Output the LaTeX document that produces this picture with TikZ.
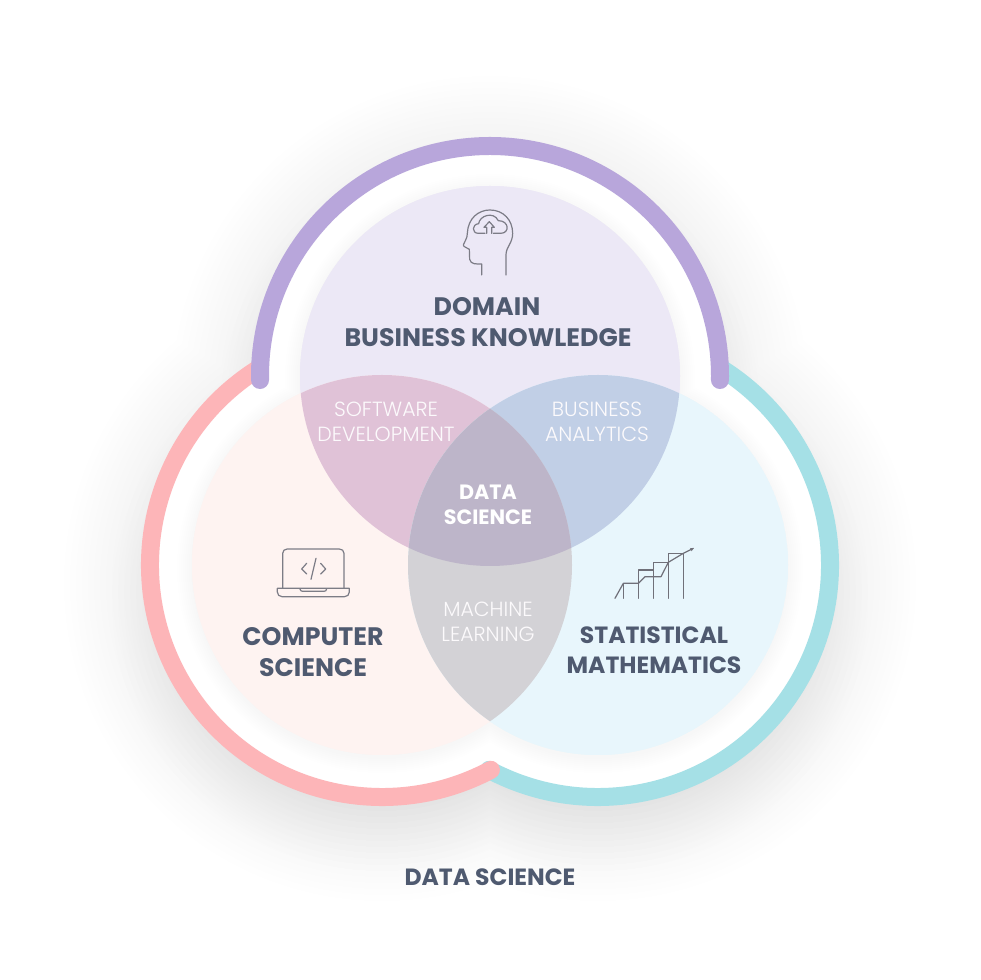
\documentclass[tikz,border=0pt]{standalone}
\usepackage{fontspec}
\setmainfont{Poppins}
\newfontfamily\lightfont{Poppins Light}
\definecolor{inkc}{HTML}{4F5A70}
\definecolor{iconc}{HTML}{7C7C86}
\definecolor{purp}{HTML}{B8A6DB}
\definecolor{pink}{HTML}{FDB5B8}
\definecolor{teal}{HTML}{A5E0E6}
\definecolor{ctop}{HTML}{ECE8F6}
\definecolor{cleft}{HTML}{FEF3F1}
\definecolor{cright}{HTML}{E8F6FC}
\definecolor{ovl}{HTML}{E0C2D7}
\definecolor{ovr}{HTML}{C1CFE6}
\definecolor{ovb}{HTML}{D3D2D6}
\definecolor{ovc}{HTML}{BDB5C9}
\tikzset{
  ring/.style={line width=18,line cap=round},
  head/.style={font=\bfseries\fontsize{25.3}{25.3}\selectfont,text=inkc,inner sep=0,anchor=center},
  headb/.style={head,font=\bfseries\fontsize{23.5}{23.5}\selectfont},
  sub/.style={font=\lightfont\fontsize{20.5}{20.5}\selectfont,text=white!92!ovl,inner sep=0,anchor=center},
  core/.style={font=\bfseries\fontsize{20.7}{20.7}\selectfont,text=white,inner sep=0,anchor=center},
  icon/.style={draw=iconc,line width=1.2,line join=round,line cap=round}
}
\begin{document}
\begin{tikzpicture}[x=1pt,y=1pt]
\useasboundingbox (0,0) rectangle (980,980);
\fill[white] (0,0) rectangle (980,980);
\coordinate (T) at (490,604);
\coordinate (L) at (382,415);
\coordinate (R) at (598,415);
% soft outer shadow: a wide faint halo and a tighter one lying lower
\foreach \r in {228,234,...,322}{
  \fill[black,fill opacity=.0024] ([yshift=-18]T) circle[radius=\r] ([yshift=-18]L) circle[radius=\r] ([yshift=-18]R) circle[radius=\r];
}
\foreach \r in {210,216,...,270}{
  \fill[black,fill opacity=.0045] ([yshift=-36]T) circle[radius=\r] ([yshift=-36]L) circle[radius=\r] ([yshift=-36]R) circle[radius=\r];
}
% white plate
\fill[white] (T) circle[radius=224] (L) circle[radius=224] (R) circle[radius=224];
% rings
\draw[ring,teal] ([shift={(58:232)}]R) arc[start angle=58,delta angle=-176,radius=232];
\draw[ring,pink] ([shift={(122:232)}]L) arc[start angle=122,delta angle=176,radius=232];
\draw[ring,purp] ([shift={(181:230)}]T) arc[start angle=181,delta angle=-182,radius=230];
% soft shadow of the discs on the plate
\foreach \r in {191,193,...,205}{
  \fill[black,fill opacity=.003] ([yshift=-3]T) circle[radius=\r] ([yshift=-3]L) circle[radius=\r] ([yshift=-3]R) circle[radius=\r];
}
% discs
\fill[ctop] (T) circle[radius=190];
\fill[cleft] (L) circle[radius=190];
\fill[cright] (R) circle[radius=190];
\fill[ctop] (T) circle[radius=190];
\begin{scope}
  \clip (L) circle[radius=190];
  \fill[cleft] (L) circle[radius=190];
  \fill[ovl] (T) circle[radius=190];
\end{scope}
\begin{scope}
  \clip (R) circle[radius=190];
  \fill[cright] (R) circle[radius=190];
  \fill[ovr] (T) circle[radius=190];
  \clip (L) circle[radius=190];
  \fill[ovb] (R) circle[radius=190];
  \fill[ovc] (T) circle[radius=190];
\end{scope}
% texts
\node[head] (dom) at (487,673) {DOMAIN};
\node[head] (biz) at (488,642) {BUSINESS KNOWLEDGE};
\node[head] (com) at (313,343) {COMPUTER};
\node[head] (csc) at (313,312) {SCIENCE};
\node[headb] (sta) at (654,345) {STATISTICAL};
\node[headb] (mat) at (654,315) {MATHEMATICS};
\node[sub] (s1) at (386,571) {SOFTWARE};
\node[sub] (s2) at (386,546) {DEVELOPMENT};
\node[sub] (b1) at (597,571) {BUSINESS};
\node[sub] (b2) at (597,546) {ANALYTICS};
\node[sub] (m1) at (488,371) {MACHINE};
\node[sub] (m2) at (488,346) {LEARNING};
\node[core] (d1) at (488,488) {DATA};
\node[core] (d2) at (488,463) {SCIENCE};
\node[headb] (cap) at (490,103) {DATA SCIENCE};
% head icon
\begin{scope}[shift={(430,790)},x=.3333pt,y=-.3333pt]
  \draw[icon] (155,255) -- (155,222) .. controls (140,222) and (122,224) .. (119,208) -- (118,178) .. controls (112,172) and (100,172) .. (100,165) .. controls (105,152) and (112,145) .. (112,130) .. controls (114,85) and (145,60) .. (180,60) .. controls (220,60) and (248,90) .. (248,130) .. controls (248,160) and (228,170) .. (228,195) -- (228,255);
  \draw[icon] (165,130) -- (145,130) .. controls (125,130) and (125,103) .. (146,101) .. controls (148,78) and (190,62) .. (205,92) .. controls (238,92) and (240,130) .. (212,130) -- (190,130);
  \draw[icon] (170,130) -- (170,112) -- (162,112) -- (178,95) -- (193,112) -- (185,112) -- (185,130);
\end{scope}
% laptop icon
\begin{scope}[shift={(260,450)},x=.3333pt,y=-.3333pt]
  \draw[icon] (68,175) -- (68,70) .. controls (68,62) and (74,57) .. (82,57) -- (238,57) .. controls (246,57) and (252,62) .. (252,70) -- (252,175);
  \draw[icon] (52,175) -- (268,175) -- (268,186) .. controls (268,194) and (262,200) .. (254,200) -- (66,200) .. controls (58,200) and (52,194) .. (52,186) -- cycle;
  \draw[icon] (120,177) .. controls (121,182) and (124,184) .. (128,184) -- (192,184) .. controls (196,184) and (199,182) .. (200,177);
  \draw[icon] (140,100) -- (125,117) -- (140,132);
  \draw[icon] (182,100) -- (197,117) -- (182,132);
  \draw[icon] (168,85) -- (153,148);
\end{scope}
% chart icon
\begin{scope}[shift={(600,450)},x=.3333pt,y=-.3333pt]
  \draw[icon,draw=iconc!90!black] (70,205) -- (70,160) -- (115,160) (115,205) -- (115,120) -- (160,120) (160,205) -- (160,98) -- (205,98) (205,205) -- (205,70) -- (250,70) -- (250,205);
  \draw[icon,draw=iconc!90!black] (45,205) -- (70,160) -- (115,160) -- (135,140) -- (183,140) -- (205,97) -- (250,70) -- (280,55);
  \fill[iconc!90!black] (280,55) -- (270,54) -- (275,64) -- cycle;
\end{scope}
\end{tikzpicture}
\end{document}
